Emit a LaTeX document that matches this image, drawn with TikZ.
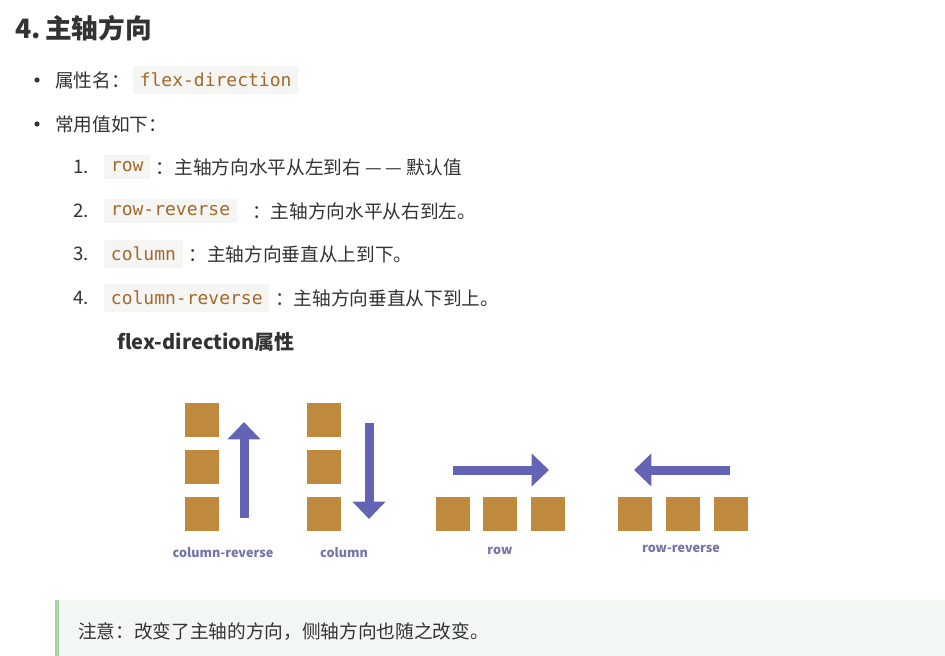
\documentclass[tikz,border=0pt]{standalone}
\usepackage{fontspec}
\setmainfont{Noto Sans CJK SC}
\setmonofont{DejaVu Sans Mono}
\usetikzlibrary{positioning,arrows.meta}
\definecolor{txt}{HTML}{333333}
\definecolor{codefg}{HTML}{A3692B}
\definecolor{codebg}{HTML}{F5F5F3}
\definecolor{boxc}{HTML}{C08A3E}
\definecolor{arrc}{HTML}{6464B4}
\definecolor{labc}{HTML}{7474A8}
\definecolor{notebg}{HTML}{F3F7F3}
\definecolor{notebar}{HTML}{A6D3A6}

\begin{document}
\begin{tikzpicture}[
        x=0.75pt, y=-0.75pt,
        txtnode/.style={anchor=west, inner sep=0pt, text=txt, font=\fontsize{14}{16}\selectfont},
        code/.style={anchor=west, fill=codebg, text=codefg, inner xsep=5pt, inner ysep=5pt,
            font=\ttfamily\fontsize{13.5}{16}\selectfont},
        item/.style={txtnode, right=4pt of #1},
        sq/.style={fill=boxc},
        axis/.style={draw=arrc, line width=6.75pt, -{Triangle[width=24pt,length=13pt]}},
        lab/.style={text=labc, font=\bfseries\fontsize{9.5}{12}\selectfont}
    ]
        \useasboundingbox (0,0) rectangle (945,656);
        \fill[white] (0,0) rectangle (945,656);

        % Heading and list
        \node[txtnode, font=\bfseries\fontsize{20}{24}\selectfont] (title) at (15,28) {4.\,主轴方向};
        \fill[txt] (37,80) circle (2.6);
        \node[txtnode] (name) at (55,80) {属性名：};
        \node[code, right=2pt of name] (prop) {flex-direction};
        \fill[txt] (37,124) circle (2.6);
        \node[txtnode] (vals) at (55,124) {常用值如下：};

        \node[txtnode] (n1) at (73,167) {1.};
        \node[code] (c1) at (104,167) {row};
        \node[item=c1] (t1) {：主轴方向水平从左到右 —\,— 默认值};
        \node[txtnode] (n2) at (73,211) {2.};
        \node[code] (c2) at (104,211) {row-reverse};
        \node[item=c2] (t2) {\enspace ：主轴方向水平从右到左。};
        \node[txtnode] (n3) at (73,254) {3.};
        \node[code] (c3) at (104,254) {column};
        \node[item=c3] (t3) {：主轴方向垂直从上到下。};
        \node[txtnode] (n4) at (73,298) {4.};
        \node[code] (c4) at (104,298) {column-reverse};
        \node[item=c4] (t4) {：主轴方向垂直从下到上。};

        \node[txtnode, font=\bfseries\fontsize{15}{18}\selectfont] (cap) at (117,342) {flex-direction属性};

        % Items
        \foreach \y in {403,450,497} {
            \fill[sq] (185,\y) rectangle +(34,34);
            \fill[sq] (307,\y) rectangle +(34,34);
        }
        \foreach \x in {436,483,531} \fill[sq] (\x,497) rectangle +(34,34);
        \foreach \x in {618,666,714} \fill[sq] (\x,497) rectangle +(34,34);

        % Axes
        \coordinate (cr0) at (244,518); \coordinate (cr1) at (244,422);
        \coordinate (co0) at (369,423); \coordinate (co1) at (369,519);
        \coordinate (ro0) at (453,470); \coordinate (ro1) at (549,470);
        \coordinate (rr0) at (730,470); \coordinate (rr1) at (634,470);
        \draw[axis] (cr0) -- (cr1);
        \draw[axis] (co0) -- (co1);
        \draw[axis] (ro0) -- (ro1);
        \draw[axis] (rr0) -- (rr1);

        \node[lab] (lcr) at (223,553) {column-reverse};
        \node[lab] (lco) at (344,553) {column};
        \node[lab] (lro) at (500,551) {row};
        \node[lab] (lrr) at (681,549) {row-reverse};

        % Note
        \fill[notebg] (55,600) rectangle (945,656);
        \fill[notebar] (55,600) rectangle (59,656);
        \node[txtnode] (note) at (78,632) {注意：改变了主轴的方向，侧轴方向也随之改变。};
    \end{tikzpicture}
\end{document}
